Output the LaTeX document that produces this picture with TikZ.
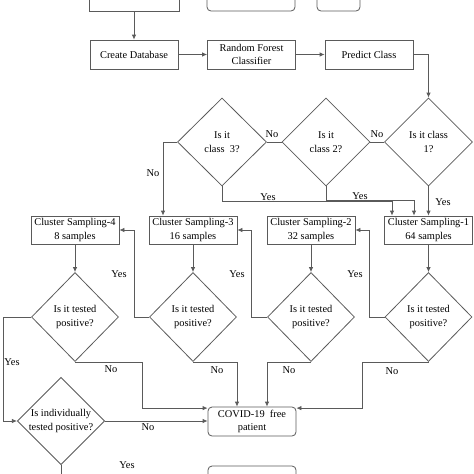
\documentclass[tikz,border=0pt]{standalone}
\usepackage{fontspec}
\setmainfont{Liberation Serif}
\usetikzlibrary{shapes.geometric,arrows.meta,calc}
\definecolor{ln}{HTML}{5A5A5A}
\tikzset{
  box/.style={draw=ln,line width=0.8pt,rectangle,minimum width=88pt,minimum height=29pt,inner sep=1pt,align=center,text=black,font=\fontsize{10.4}{13.5}\selectfont},
  rbox/.style={box,rounded corners=4pt},
  dia/.style={draw=ln,line width=0.8pt,diamond,minimum width=88pt,minimum height=88pt,inner sep=0pt,align=center,text=black,font=\fontsize{10.4}{13.5}\selectfont},
  arr/.style={draw=ln,line width=0.8pt,-{Latex[length=5pt,width=4.5pt]}},
  ln/.style={draw=ln,line width=0.8pt},
  lbl/.style={font=\fontsize{10.4}{13.5}\selectfont,inner sep=0pt,text=black}
}
\begin{document}
\begin{tikzpicture}[x=1pt,y=-1pt]
\useasboundingbox (0,0) rectangle (474,474);
\clip (0,0) rectangle (474,474);
% top row (cut off)
\node[box,minimum width=90pt,minimum height=32pt] (t1) at (134,-5) {};
\node[rbox,minimum width=88pt,minimum height=32pt] (t2) at (251,-5) {};
\node[rbox,minimum width=43pt,minimum height=32pt] (t3) at (338.5,-5) {};
% second row
\node[box] (db) at (134,54.5) {Create Database};
\node[box] (rf) at (251.5,54.5) {Random Forest\\Classifier};
\node[box] (pc) at (369,54.5) {Predict Class};
% class diamonds
\node[dia,minimum width=89pt] (d3) at (222,142) {Is it\\class\ \ 3?};
\node[dia] (d2) at (326,142) {Is it\\class 2?};
\node[dia] (d1) at (428.5,142) {Is it class\\1?};
% cluster sampling
\node[box,minimum height=28pt] (cs4) at (75,230) {Cluster Sampling-4\\8 samples};
\node[box,minimum height=28pt] (cs3) at (193,230) {Cluster Sampling-3\\16 samples};
\node[box,minimum height=28pt] (cs2) at (311,230) {Cluster Sampling-2\\32 samples};
\node[box,minimum height=28pt] (cs1) at (428.5,230) {Cluster Sampling-1\\64 samples};
% test diamonds
\node[dia,minimum width=87pt,minimum height=89pt] (ta) at (75,317) {Is it tested\\positive?};
\node[dia,minimum width=87pt,minimum height=89pt] (tb) at (193,317) {Is it tested\\positive?};
\node[dia,minimum width=87pt,minimum height=89pt] (tc) at (311,317) {Is it tested\\positive?};
\node[dia,minimum width=87pt,minimum height=89pt] (td) at (428.5,317) {Is it tested\\positive?};
% individual diamond and outputs
\node[dia,minimum width=87pt,minimum height=87pt] (ind) at (61,421) {Is individually\\tested positive?};
\node[rbox] (covid) at (252,421.5) {COVID-19\ \ free\\patient};
\node[rbox,minimum height=30pt] (bot) at (252,481) {};
% connectors top
\draw[arr] (t1.south) -- (db.north);
\draw[arr] (db.east) -- (rf.west);
\draw[arr] (rf.east) -- (pc.west);
\draw[arr] (pc.east) -| (d1.north);
\draw[ln] (d1.west) -- (d2.east);
\draw[ln] (d2.west) -- (d3.east);
\draw[arr] (d3.west) -| ([xshift=-30pt]cs3.north);
\draw[arr] (d3.south) |- ([xshift=-36.5pt,yshift=14pt]cs1.north) -- ([xshift=-36.5pt]cs1.north);
\draw[arr] (d2.south) |- ([xshift=-14.5pt,yshift=15pt]cs1.north) -- ([xshift=-14.5pt]cs1.north);
\draw[arr] (d1.south) -- (cs1.north);
\node[lbl] (n1) at (377,134) {No};
\node[lbl] (n2) at (272,134) {No};
\node[lbl] (n3) at (153,173) {No};
\node[lbl] (y1) at (268,197) {Yes};
\node[lbl] (y2) at (360,196) {Yes};
\node[lbl] (y3) at (443,202) {Yes};
% cluster to tests
\draw[arr] (cs4.south) -- (ta.north);
\draw[arr] (cs3.south) -- (tb.north);
\draw[arr] (cs2.south) -- (tc.north);
\draw[arr] (cs1.south) -- (td.north);
\draw[arr] (tb.west) -- ++(-15,0) |- (cs4.east);
\draw[arr] (tc.west) -- ++(-16,0) |- (cs3.east);
\draw[arr] (td.west) -- ++(-15,0) |- (cs2.east);
\node[lbl] (y4) at (119,274) {Yes};
\node[lbl] (y5) at (237,274) {Yes};
\node[lbl] (y6) at (355,274) {Yes};
% yes path to individual
\coordinate (cL) at (3,0);
\draw[arr] (ta.west) -| (cL |- ind.west) -- (ind.west);
\node[lbl] (y7) at (12,362) {Yes};
% no paths to covid
\coordinate (cwl) at ([yshift=-1.5pt]covid.north west);
\coordinate (cwr) at ([yshift=-1.5pt]covid.north east);
\coordinate (cA) at (142,0);
\coordinate (cD) at (362,0);
\draw[arr] (ta.south) -| (cwl -| cA) -- (cwl);
\draw[arr] (tb.south) -| ([xshift=-15pt]covid.north);
\draw[arr] (tc.south) -| ([xshift=15pt]covid.north);
\draw[arr] (td.south) -| (cwr -| cD) -- (cwr);
\node[lbl] (n4) at (111,369) {No};
\node[lbl] (n5) at (217,370) {No};
\node[lbl] (n6) at (289,370) {No};
\node[lbl] (n7) at (392,371) {No};
\draw[arr] (ind.east) -- (ind.east -| covid.west);
\node[lbl] (n8) at (148,427) {No};
\coordinate (iend) at (61,480);
\draw[ln] (ind.south) -- (iend);
\node[lbl] (y8) at (127,465) {Yes};
\end{tikzpicture}
\end{document}
